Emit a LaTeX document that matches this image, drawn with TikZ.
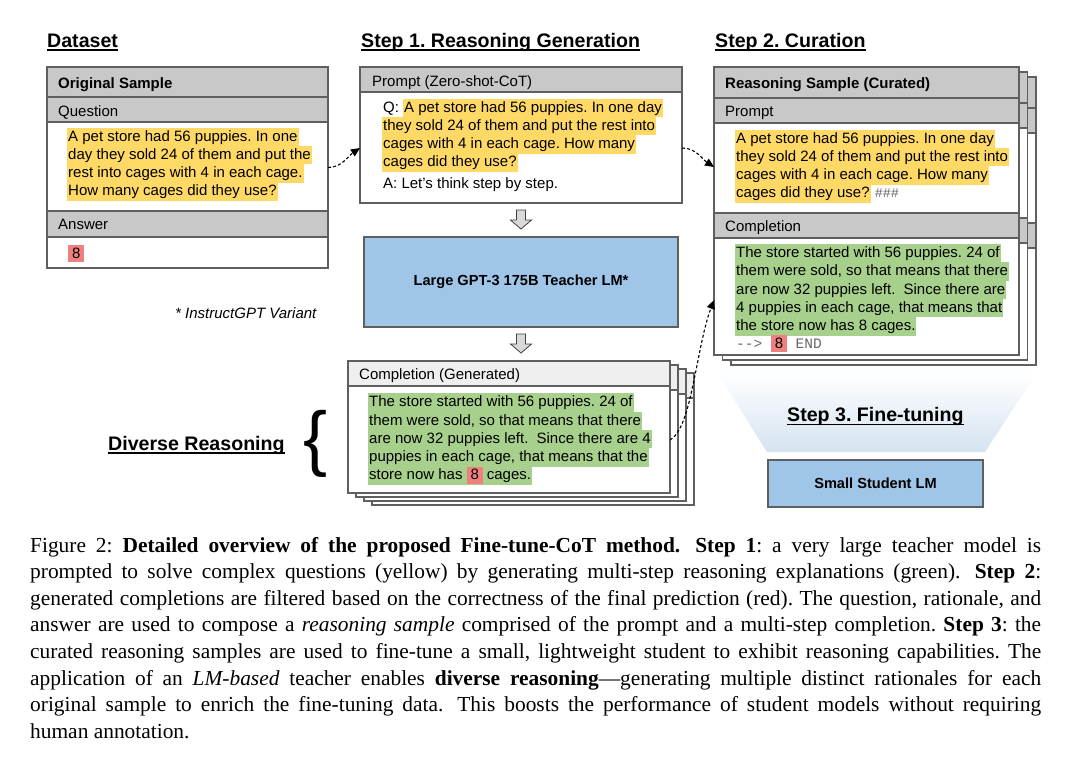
\documentclass[tikz,border=0pt]{standalone}
\usepackage{fontspec}
\setmainfont{Liberation Sans}
\newfontfamily\capfont{Liberation Serif}
\newfontfamily\monof{Liberation Mono}
\usetikzlibrary{calc,arrows.meta}
\definecolor{hdr}{HTML}{C8C8C8}
\definecolor{hdrl}{HTML}{EFEFEF}
\definecolor{brd}{HTML}{5F5F5F}
\definecolor{yel}{HTML}{FFD966}
\definecolor{grn}{HTML}{A8D08D}
\definecolor{redc}{HTML}{F08080}
\definecolor{lmblue}{HTML}{9FC5E8}
\definecolor{fadeblue}{HTML}{D5E3F1}
\definecolor{codegray}{HTML}{666666}
\newcommand\hlc[2]{{\setlength\fboxsep{0pt}\colorbox{#1}{\rule[-4.9pt]{0pt}{18.3pt}\hspace{1pt}#2\hspace{1pt}}}}
\newcommand\redeight{{\setlength\fboxsep{0pt}\colorbox{redc}{\rule[-4.4pt]{0pt}{17pt}\hspace{3.8pt}8\hspace{3.8pt}}}}
\begin{document}
\frenchspacing
\begin{tikzpicture}[x=1pt,y=-1pt,
  frame/.style={draw=brd, line width=1.2pt, fill=white, inner sep=0pt, outer sep=0pt, anchor=north west},
  row/.style={draw=brd, line width=1.2pt},
  txt/.style={anchor=base west, inner sep=0pt, font=\fontsize{15}{18}\selectfont},
  btxt/.style={anchor=base west, inner sep=0pt, font=\fontsize{15}{18}\selectfont\bfseries},
  head/.style={anchor=base west, inner sep=0pt, font=\fontsize{19.6}{22}\selectfont\bfseries},
  uline/.style={line width=1.5pt},
  dasharrow/.style={line width=1.1pt, dash pattern=on 3pt off 2.2pt, -{Triangle[length=9pt,width=8pt]}},
  blockarr/.style={draw=black!75, line width=0.8pt, fill=black!15},
  lmbox/.style={draw=brd, line width=1.2pt, fill=lmblue, inner sep=0pt, outer sep=0pt, anchor=north west},
  captxt/.style={anchor=base west, inner sep=0pt, font=\capfont\fontsize{21.4}{26.6}\selectfont}]
\useasboundingbox (0,0) rectangle (1080,756);
\fill[white] (0,0) rectangle (1080,756);

% ---------- headings ----------
\node[head] (hdata) at (47,47) {Dataset};
\node[head] (hstep1) at (361,47) {Step 1. Reasoning Generation};
\node[head] (hstep2) at (715,47) {Step 2. Curation};
\foreach \n in {hdata,hstep1,hstep2}{
  \draw[uline] ($(\n.base west)+(0,3)$) -- ($(\n.base east)+(0,3)$);
}

% ---------- original sample ----------
\node[frame, minimum width=281pt, minimum height=201pt] (orig) at (47,67) {};
\draw[row, fill=hdr] (47,67) rectangle (328,97);
\draw[row, fill=hdr] (47,97) rectangle (328,122);
\draw[row, fill=hdr] (47,211) rectangle (328,237);
\node[btxt] (origt) at (58,88) {Original Sample};
\node[txt] (qlab) at (58,116) {Question};
\node[txt] (alab) at (58,229) {Answer};
\node[txt] (oq1) at (67,141) {\hlc{yel}{A pet store had 56 puppies. In one}};
\node[txt] (oq2) at (67,159.3) {\hlc{yel}{day they sold 24 of them and put the}};
\node[txt] (oq3) at (67,177.6) {\hlc{yel}{rest into cages with 4 in each cage.}};
\node[txt] (oq4) at (67,195.9) {\hlc{yel}{How many cages did they use?}};
\node[txt] (oans) at (68,258) {\redeight};

\node[anchor=base west, inner sep=0pt, font=\fontsize{15}{18}\selectfont\itshape] (instr) at (175,318) {* InstructGPT Variant};

% ---------- prompt ----------
\node[frame, minimum width=322pt, minimum height=136pt] (prompt) at (360,67) {};
\draw[row, fill=hdr] (360,67) rectangle (682,92);
\node[txt] (ptitle) at (372,86.5) {Prompt (Zero-shot-CoT)};
\node[txt] (pq1) at (383,112) {Q: \hlc{yel}{A pet store had 56 puppies. In one day}};
\node[txt] (pq2) at (382,130.3) {\hlc{yel}{they sold 24 of them and put the rest into}};
\node[txt] (pq3) at (382,148.6) {\hlc{yel}{cages with 4 in each cage. How many}};
\node[txt] (pq4) at (382,166.9) {\hlc{yel}{cages did they use?}};
\node[txt] (pa) at (383,188.5) {A: Let’s think step by step.};

% ---------- teacher ----------
\node[lmbox, minimum width=314pt, minimum height=90pt] (teacher) at (364,237) {\fontsize{14.6}{17}\selectfont\bfseries Large GPT-3 175B Teacher LM*};

\coordinate (ba1) at ($(prompt.south)!0.5!(teacher.north)$);
\draw[blockarr] ($(ba1)+(-4.5,-10)$) -- ++(9,0) -- ++(0,10) -- ++(6,0) -- ++(-10.5,9) -- ++(-10.5,-9) -- ++(6,0) -- cycle;

% ---------- generated completion stack ----------
\foreach \k in {3,2,1}{
  \begin{scope}[shift={(8*\k,4*\k)}]
    \draw[row, fill=white] (348,361) rectangle (670,493);
    \draw[row, fill=hdrl] (348,361) rectangle (670,386);
  \end{scope}
}
\node[frame, minimum width=322pt, minimum height=132pt] (gen) at (348,361) {};
\draw[row, fill=hdrl] (348,361) rectangle (670,386);
\node[txt] (gtitle) at (359,379.3) {Completion (Generated)};
\node[txt] (g1) at (368,406.7) {\hlc{grn}{The store started with 56 puppies. 24 of}};
\node[txt] (g2) at (368,425) {\hlc{grn}{them were sold, so that means that there}};
\node[txt] (g3) at (368,443.3) {\hlc{grn}{are now 32 puppies left.\hspace{4pt} Since there are 4}};
\node[txt] (g4) at (368,461.6) {\hlc{grn}{puppies in each cage, that means that the}};
\node[txt] (g5) at (368,479.9) {\hlc{grn}{store now has \redeight{} cages.}};

\coordinate (ba2) at ($(teacher.south)!0.5!(teacher.south |- gen.north)$);
\draw[blockarr] ($(ba2)+(-4.5,-10)$) -- ++(9,0) -- ++(0,10) -- ++(6,0) -- ++(-10.5,9) -- ++(-10.5,-9) -- ++(6,0) -- cycle;

% ---------- diverse reasoning ----------
\node[head] (hdiv) at (108,450) {Diverse Reasoning};
\draw[uline] ($(hdiv.base west)+(0,3)$) -- ($(hdiv.base east)+(0,3)$);
\node[inner sep=0pt, font=\fontsize{72}{72}\selectfont] (brace) at (316,444) {\{};

% ---------- step 3 ----------
\shade[top color=white, bottom color=fadeblue] (717,372) -- (1037,372) -- (985,452) -- (767,452) -- cycle;
\node[head] (hstep3) at (787,421.5) {Step 3. Fine-tuning};
\draw[uline] ($(hstep3.base west)+(0,3)$) -- ($(hstep3.base east)+(0,3)$);
\node[lmbox, minimum width=215pt, minimum height=47pt] (student) at (768,460) {\fontsize{14.6}{17}\selectfont\bfseries Small Student LM};

% ---------- reasoning sample stack ----------
\foreach \k in {2,1}{
  \begin{scope}[shift={(8.5*\k,5*\k)}]
    \draw[row, fill=white] (714,67) rectangle (1019,355);
    \draw[row, fill=hdr] (714,67) rectangle (1019,98);
    \draw[row, fill=hdr] (714,98) rectangle (1019,123);
    \draw[row, fill=hdr] (714,213) rectangle (1019,238);
  \end{scope}
}
\node[frame, minimum width=305pt, minimum height=288pt] (rs) at (714,67) {};
\draw[row, fill=hdr] (714,67) rectangle (1019,98);
\draw[row, fill=hdr] (714,98) rectangle (1019,123);
\draw[row, fill=hdr] (714,213) rectangle (1019,238);
\node[btxt] (rstitle) at (725,88.3) {Reasoning Sample (Curated)};
\node[txt] (rsp) at (725,116.5) {Prompt};
\node[txt] (rsc) at (725,231.5) {Completion};
\node[txt] (r1) at (735,143) {\hlc{yel}{A pet store had 56 puppies. In one day}};
\node[txt] (r2) at (735,161.3) {\hlc{yel}{they sold 24 of them and put the rest into}};
\node[txt] (r3) at (735,179.6) {\hlc{yel}{cages with 4 in each cage. How many}};
\node[txt] (r4) at (735,197.9) {\hlc{yel}{cages did they use?} {\monof\fontsize{13.5}{16}\selectfont\color{codegray}\#\#\#}};
\node[txt] (c1) at (735,257.5) {\hlc{grn}{The store started with 56 puppies. 24 of}};
\node[txt] (c2) at (735,275.8) {\hlc{grn}{them were sold, so that means that there}};
\node[txt] (c3) at (735,294.1) {\hlc{grn}{are now 32 puppies left.\hspace{4pt} Since there are}};
\node[txt] (c4) at (735,312.4) {\hlc{grn}{4 puppies in each cage, that means that}};
\node[txt] (c5) at (735,330.7) {\hlc{grn}{the store now has 8 cages.}};
\node[txt] (c6) at (736,348) {{\monof\fontsize{14.5}{16}\selectfont\color{codegray}-{}->\ }\redeight{\monof\fontsize{14.5}{16}\selectfont\color{codegray}\ END}};

% ---------- dashed connectors ----------
\draw[dasharrow] (orig.east) .. controls +(14,0) and +(-12,8) .. ($(prompt.west)+(0,13)$);
\draw[dasharrow] ($(prompt.east)+(0,13)$) .. controls +(14,0) and +(-12,-8) .. ($(rs.west)+(0,-44)$);
\draw[dasharrow] ($(gen.east)+(0,13)$) .. controls +(22,-12) and +(-18,48) .. ($(rs.west)+(0,89)$);

% ---------- caption ----------
\node[captxt] (l1) at (30,552) {\hbox to 1011pt{Figure 2: \textbf{Detailed overview of the proposed Fine-tune-CoT method.}\hspace{5pt} \textbf{Step 1}: a very large teacher model is}};
\node[captxt] (l2) at (30,578.6) {\hbox to 1011pt{prompted to solve complex questions (yellow) by generating multi-step reasoning explanations (green).\hspace{5pt} \textbf{Step 2}:}};
\node[captxt] (l3) at (30,605.2) {\hbox to 1011pt{generated completions are filtered based on the correctness of the final prediction (red). The question, rationale, and}};
\node[captxt] (l4) at (30,631.8) {\hbox to 1011pt{answer are used to compose a \textit{reasoning sample} comprised of the prompt and a multi-step completion. \textbf{Step 3}: the}};
\node[captxt] (l5) at (30,658.4) {\hbox to 1011pt{curated reasoning samples are used to fine-tune a small, lightweight student to exhibit reasoning capabilities. The}};
\node[captxt] (l6) at (30,685) {\hbox to 1011pt{application of an \textit{LM-based} teacher enables \textbf{diverse reasoning}—generating multiple distinct rationales for each}};
\node[captxt] (l7) at (30,711.6) {\hbox to 1011pt{original sample to enrich the fine-tuning data.\hspace{5pt} This boosts the performance of student models without requiring}};
\node[captxt] (l8) at (30,738.2) {human annotation.};
\end{tikzpicture}
\end{document}
